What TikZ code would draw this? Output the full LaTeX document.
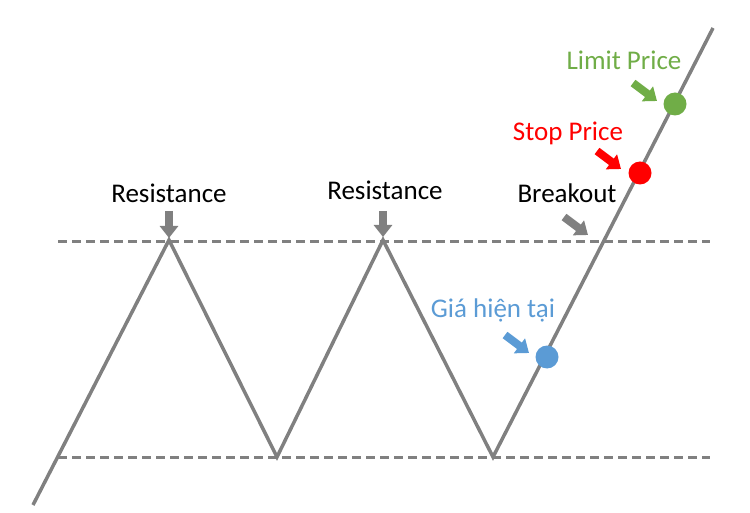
\documentclass[tikz,border=0pt]{standalone}
\usepackage{fontspec}
\setmainfont{Carlito}
\usetikzlibrary{arrows.meta}
\definecolor{lgray}{RGB}{128,128,128}
\definecolor{agreen}{RGB}{112,173,71}
\definecolor{ablue}{RGB}{91,155,213}
\definecolor{ared}{RGB}{255,0,0}
\tikzset{
  priceline/.style={lgray, line width=3.5pt, line join=miter},
  level/.style={lgray, line width=3pt, dash pattern=on 9pt off 5pt},
  pointer/.style={line width=8pt, -{Triangle[width=18pt,length=12pt]}},
  lbl/.style={font=\fontsize{27}{31}\selectfont, inner sep=0pt},
  dot/.style={circle, inner sep=0pt, minimum size=23pt}
}
\begin{document}
\begin{tikzpicture}[x=1pt,y=-1pt]
\useasboundingbox (0,0) rectangle (750,513);
% levels
\coordinate (tl) at (58,242); \coordinate (tr) at (710,242);
\coordinate (bl) at (58,457); \coordinate (br) at (710,457);
\draw[level] (tl) -- (tr);
\draw[level] (bl) -- (br);
% price path
\coordinate (p0) at (33,505);
\coordinate (p1) at (169,240);
\coordinate (p2) at (277,457);
\coordinate (p3) at (383,240);
\coordinate (p4) at (493,457);
\coordinate (p5) at (713,28);
\draw[priceline] (p0) -- (p1) -- (p2) -- (p3) -- (p4) -- (p5);
% dots
\node[dot, fill=agreen] (dlimit) at (675,104) {};
\node[dot, fill=ared] (dstop) at (640,173) {};
\node[dot, fill=ablue] (dcur) at (547,357) {};
% labels
\node[lbl] (res1) at (169,193) {Resistance};
\node[lbl] (res2) at (385,190) {Resistance};
\node[lbl] (brk) at (567,193) {Breakout};
\node[lbl, text=agreen] (lim) at (624,60) {Limit Price};
\node[lbl, text=ared] (stp) at (568,133) {Stop Price};
\node[lbl, text=ablue] (cur) at (493,310) {Giá hiện tại};
% arrows
\coordinate (a1s) at (169,211); \coordinate (a1e) at (169,238);
\coordinate (a2s) at (383,211); \coordinate (a2e) at (383,237);
\coordinate (a3s) at (564,217); \coordinate (a3e) at (588,235);
\coordinate (a4s) at (633,83); \coordinate (a4e) at (657,101);
\coordinate (a5s) at (597,151); \coordinate (a5e) at (621,169);
\coordinate (a6s) at (505,335); \coordinate (a6e) at (529,353);
\draw[pointer, lgray] (a1s) -- (a1e);
\draw[pointer, lgray] (a2s) -- (a2e);
\draw[pointer, lgray] (a3s) -- (a3e);
\draw[pointer, agreen] (a4s) -- (a4e);
\draw[pointer, ared] (a5s) -- (a5e);
\draw[pointer, ablue] (a6s) -- (a6e);
\end{tikzpicture}
\end{document}
